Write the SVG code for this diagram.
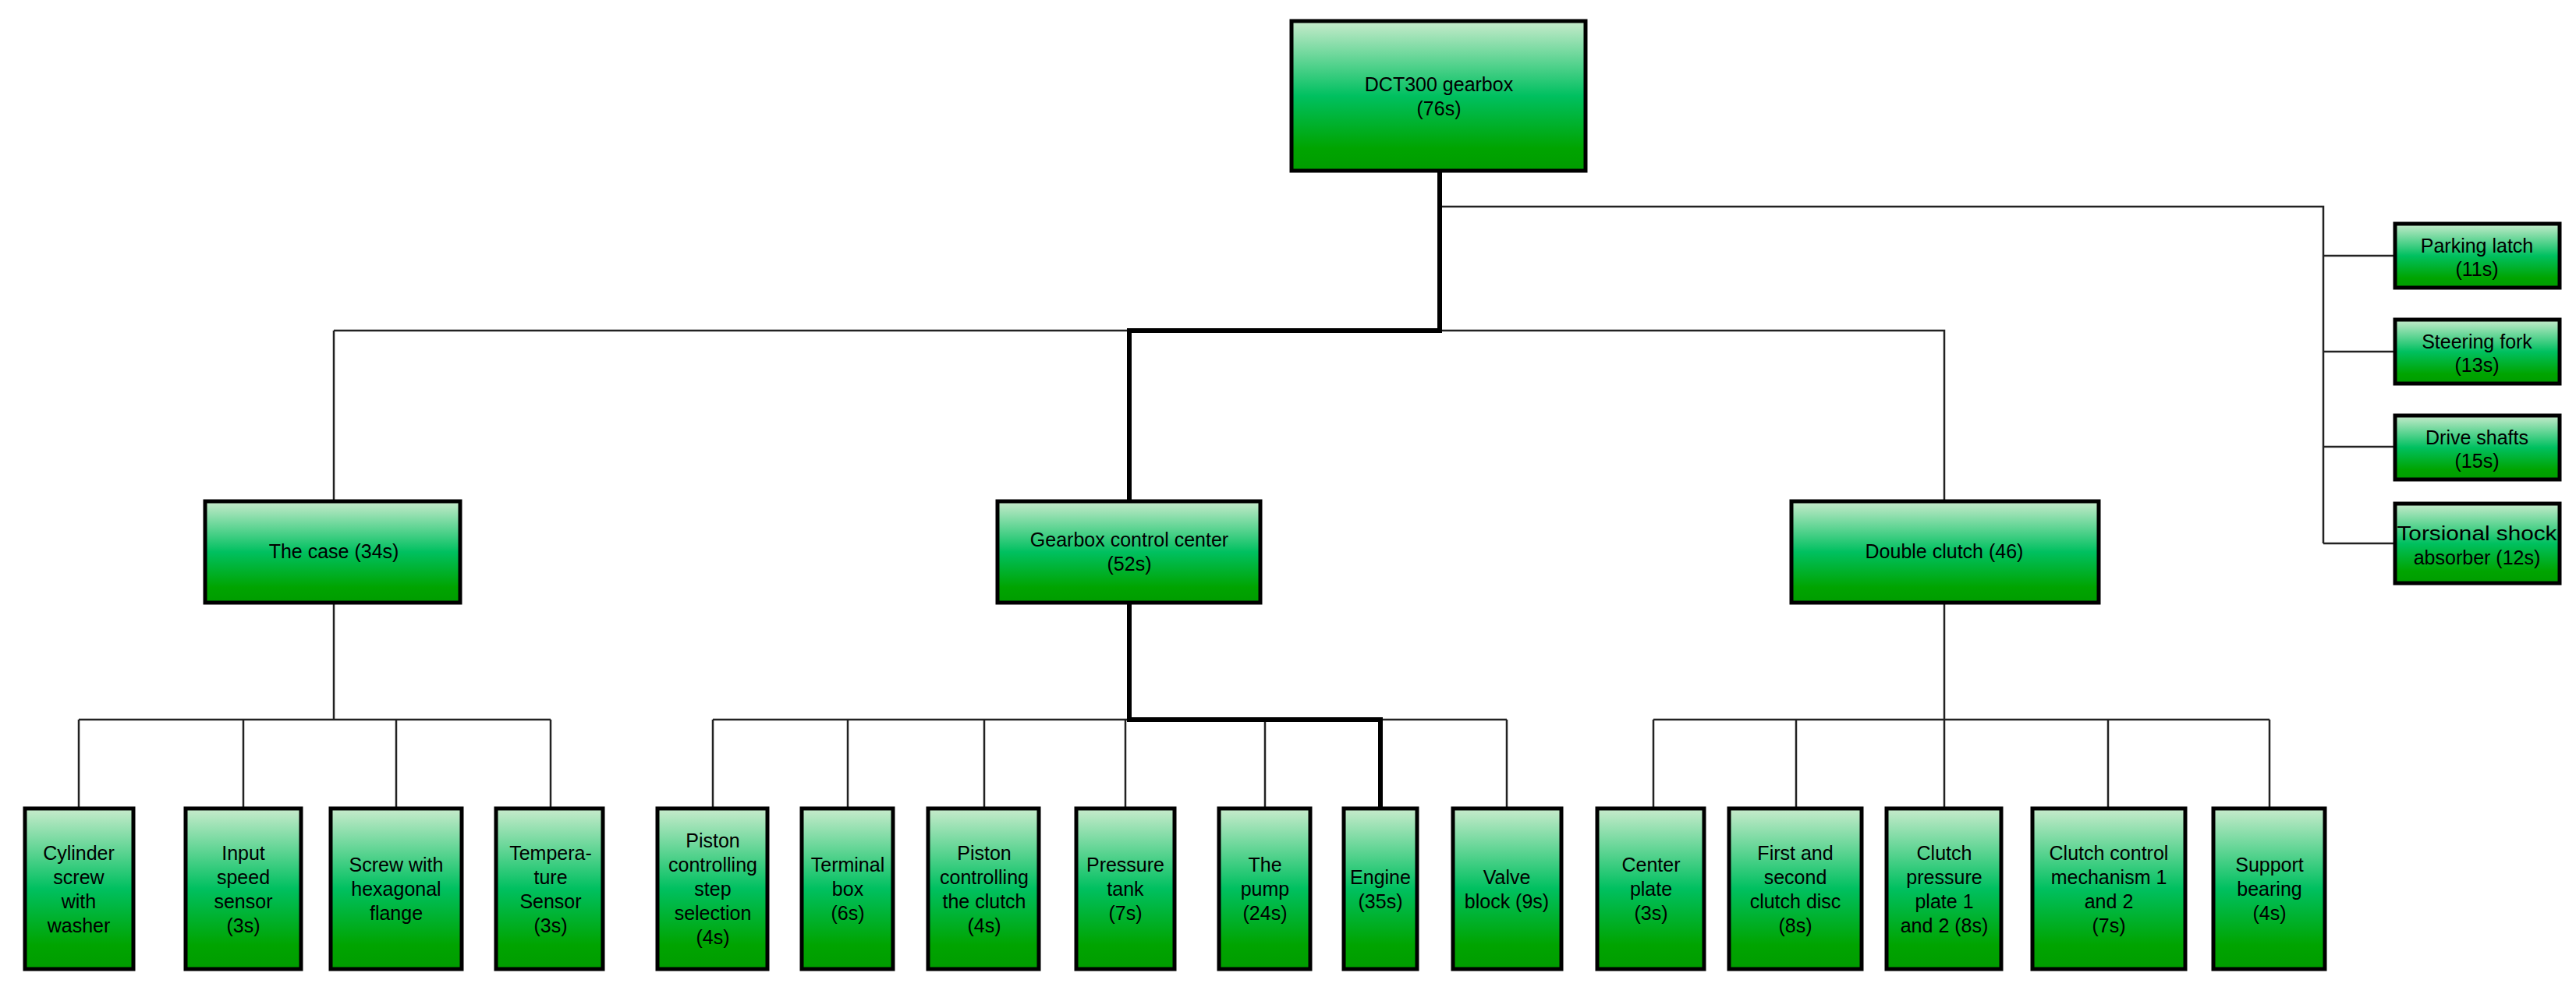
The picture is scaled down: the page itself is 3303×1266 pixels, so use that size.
<svg xmlns="http://www.w3.org/2000/svg" width="3303" height="1266" viewBox="0 0 3303 1266">
<style>
.b{fill:url(#g);stroke:#000;stroke-width:5}
.t{font-family:"Liberation Sans",Arial,sans-serif;font-size:25px;fill:#000;text-anchor:middle}
.c{fill:none;stroke:#222;stroke-width:2.5}
.k{fill:none;stroke:#000;stroke-width:6}
</style>
<defs>
<linearGradient id="g" x1="0" y1="0" x2="0" y2="1">
<stop offset="0" stop-color="#c8ebcc"/>
<stop offset="0.5" stop-color="#00c060"/>
<stop offset="0.85" stop-color="#00a400"/>
<stop offset="1" stop-color="#009c00"/>
</linearGradient>
</defs>
<rect width="3303" height="1266" fill="#fff"/>
<g id="connectors">
<path class="c" d="M1846 265H2979V697M2979 328H3071M2979 451H3071M2979 573H3071M2979 697H3071"/>
<path class="c" d="M428 424H2493V643M428 424V643"/>
<path class="c" d="M428 773V923M101 923H706M101 923V1037M312 923V1037M508 923V1037M706 923V1037"/>
<path class="c" d="M914 923H1932M914 923V1037M1087 923V1037M1262 923V1037M1443 923V1037M1622 923V1037M1932 923V1037"/>
<path class="c" d="M2493 773V1037M2120 923H2910M2120 923V1037M2303 923V1037M2703 923V1037M2910 923V1037"/>
<path class="k" d="M1846 217V424H1448V643M1448 773V923H1770V1037"/>
</g>
<g id="root"><rect class="b" x="1656" y="27" width="377" height="192"/><text class="t" x="1845" y="117">DCT300 gearbox</text><text class="t" x="1845" y="148">(76s)</text></g>
<g id="parking"><rect class="b" x="3071" y="287" width="211" height="82"/><text class="t" x="3176" y="324">Parking latch</text><text class="t" x="3176" y="354">(11s)</text></g>
<g id="fork"><rect class="b" x="3071" y="410" width="211" height="82"/><text class="t" x="3176" y="447">Steering fork</text><text class="t" x="3176" y="477">(13s)</text></g>
<g id="shafts"><rect class="b" x="3071" y="533" width="211" height="82"/><text class="t" x="3176" y="570">Drive shafts</text><text class="t" x="3176" y="600">(15s)</text></g>
<g id="torsional"><rect class="b" x="3071" y="646" width="211" height="102"/><text class="t" x="3176" y="693" textLength="205" lengthAdjust="spacingAndGlyphs">Torsional shock</text><text class="t" x="3176" y="724">absorber (12s)</text></g>
<g id="case"><rect class="b" x="263" y="643" width="327" height="130"/><text class="t" x="428" y="716">The case (34s)</text></g>
<g id="gcc"><rect class="b" x="1279" y="643" width="337" height="130"/><text class="t" x="1448" y="701">Gearbox control center</text><text class="t" x="1448" y="732">(52s)</text></g>
<g id="dc"><rect class="b" x="2297" y="643" width="394" height="130"/><text class="t" x="2493" y="716">Double clutch (46)</text></g>
<g id="l1"><rect class="b" x="32" y="1037" width="139" height="206"/><text class="t" x="101" y="1103">Cylinder</text><text class="t" x="101" y="1134">screw</text><text class="t" x="101" y="1165">with</text><text class="t" x="101" y="1196">washer</text></g>
<g id="l2"><rect class="b" x="238" y="1037" width="148" height="206"/><text class="t" x="312" y="1103">Input</text><text class="t" x="312" y="1134">speed</text><text class="t" x="312" y="1165">sensor</text><text class="t" x="312" y="1196">(3s)</text></g>
<g id="l3"><rect class="b" x="424" y="1037" width="168" height="206"/><text class="t" x="508" y="1118">Screw with</text><text class="t" x="508" y="1149">hexagonal</text><text class="t" x="508" y="1180">flange</text></g>
<g id="l4"><rect class="b" x="636" y="1037" width="137" height="206"/><text class="t" x="706" y="1103">Tempera-</text><text class="t" x="706" y="1134">ture</text><text class="t" x="706" y="1165">Sensor</text><text class="t" x="706" y="1196">(3s)</text></g>
<g id="l5"><rect class="b" x="843" y="1037" width="141" height="206"/><text class="t" x="914" y="1087">Piston</text><text class="t" x="914" y="1118">controlling</text><text class="t" x="914" y="1149">step</text><text class="t" x="914" y="1180">selection</text><text class="t" x="914" y="1211">(4s)</text></g>
<g id="l6"><rect class="b" x="1028" y="1037" width="117" height="206"/><text class="t" x="1087" y="1118">Terminal</text><text class="t" x="1087" y="1149">box</text><text class="t" x="1087" y="1180">(6s)</text></g>
<g id="l7"><rect class="b" x="1190" y="1037" width="142" height="206"/><text class="t" x="1262" y="1103">Piston</text><text class="t" x="1262" y="1134">controlling</text><text class="t" x="1262" y="1165">the clutch</text><text class="t" x="1262" y="1196">(4s)</text></g>
<g id="l8"><rect class="b" x="1380" y="1037" width="126" height="206"/><text class="t" x="1443" y="1118">Pressure</text><text class="t" x="1443" y="1149">tank</text><text class="t" x="1443" y="1180">(7s)</text></g>
<g id="l9"><rect class="b" x="1563" y="1037" width="117" height="206"/><text class="t" x="1622" y="1118">The</text><text class="t" x="1622" y="1149">pump</text><text class="t" x="1622" y="1180">(24s)</text></g>
<g id="l10"><rect class="b" x="1723" y="1037" width="94" height="206"/><text class="t" x="1770" y="1134">Engine</text><text class="t" x="1770" y="1165">(35s)</text></g>
<g id="l11"><rect class="b" x="1863" y="1037" width="139" height="206"/><text class="t" x="1932" y="1134">Valve</text><text class="t" x="1932" y="1165">block (9s)</text></g>
<g id="l12"><rect class="b" x="2048" y="1037" width="137" height="206"/><text class="t" x="2117" y="1118">Center</text><text class="t" x="2117" y="1149">plate</text><text class="t" x="2117" y="1180">(3s)</text></g>
<g id="l13"><rect class="b" x="2217" y="1037" width="170" height="206"/><text class="t" x="2302" y="1103">First and</text><text class="t" x="2302" y="1134">second</text><text class="t" x="2302" y="1165">clutch disc</text><text class="t" x="2302" y="1196">(8s)</text></g>
<g id="l14"><rect class="b" x="2419" y="1037" width="147" height="206"/><text class="t" x="2493" y="1103">Clutch</text><text class="t" x="2493" y="1134">pressure</text><text class="t" x="2493" y="1165">plate 1</text><text class="t" x="2493" y="1196">and 2 (8s)</text></g>
<g id="l15"><rect class="b" x="2606" y="1037" width="196" height="206"/><text class="t" x="2704" y="1103">Clutch control</text><text class="t" x="2704" y="1134">mechanism 1</text><text class="t" x="2704" y="1165">and 2</text><text class="t" x="2704" y="1196">(7s)</text></g>
<g id="l16"><rect class="b" x="2838" y="1037" width="143" height="206"/><text class="t" x="2910" y="1118">Support</text><text class="t" x="2910" y="1149">bearing</text><text class="t" x="2910" y="1180">(4s)</text></g>
</svg>
